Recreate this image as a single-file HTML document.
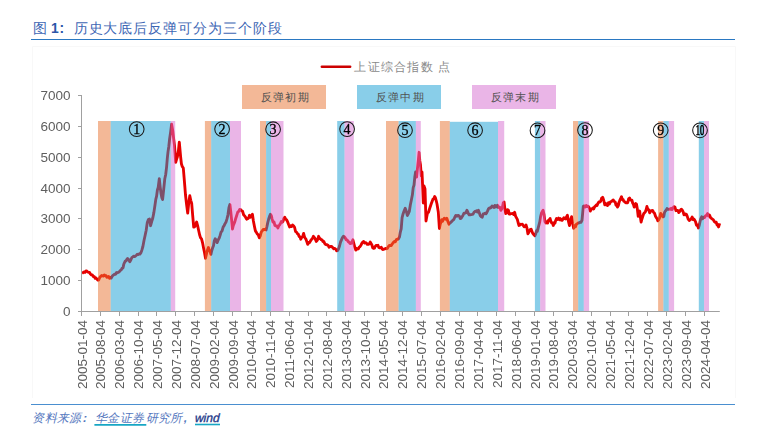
<!DOCTYPE html>
<html><head><meta charset="utf-8">
<style>
html,body{margin:0;padding:0;background:#fff;}
body{width:757px;height:434px;overflow:hidden;position:relative;font-family:"Liberation Sans",sans-serif;}
svg{position:absolute;left:0;top:0;}
</style></head><body>
<svg width="757" height="434" viewBox="0 0 757 434">
<path d="M32.5,398 V46.5 H735.5 V398" fill="none" stroke="#F8F8F8" stroke-width="1"/>
<g fill="#3D66B4" font-size="13.8">
<text x="32.5" y="33">图</text>
<text x="51" y="33" font-weight="bold" fill="#2B56A8">1</text>
<text x="59.6" y="32.6" font-weight="bold" fill="#2B56A8">:</text>
<text y="33" x="73.60 88.54 103.48 118.42 133.36 148.30 163.24 178.18 193.12 208.06 223.00 237.94 252.88 267.82">历史大底后反弹可分为三个阶段</text>
</g>
<line x1="31" y1="39.5" x2="735" y2="39.5" stroke="#2A78C2" stroke-width="1.1"/>
<line x1="321.8" y1="66.8" x2="350.2" y2="66.8" stroke="#CC0000" stroke-width="2.4" stroke-linecap="round"/>
<text x="354.2 367.5 380.8 394.1 407.4 420.7 438.1" y="71.3" font-size="11.5" fill="#8A8A8A">上证综合指数点</text>
<rect x="242" y="85" width="84" height="24" fill="#E8722F" fill-opacity="0.5"/>
<rect x="357" y="85" width="84" height="24" fill="#149DD4" fill-opacity="0.5"/>
<rect x="472" y="85" width="84" height="24" fill="#D66CD0" fill-opacity="0.5"/>
<g font-size="11" fill="#505050" letter-spacing="1.4">
<text x="285.4" y="101.3" text-anchor="middle">反弹初期</text>
<text x="400.4" y="101.3" text-anchor="middle">反弹中期</text>
<text x="515.4" y="101.3" text-anchor="middle">反弹末期</text>
</g>
<path d="M82.10,273.50 L83.08,272.72 L84.06,271.95 L85.04,272.39 L86.02,270.89 L87.00,271.20 L87.85,271.96 L88.70,272.36 L89.55,272.50 L90.40,274.00 L91.38,274.89 L92.36,274.93 L93.34,276.52 L94.32,276.75 L95.30,278.40 L96.15,278.06 L97.00,279.06 L97.85,280.19 L98.70,280.00 L99.75,277.47 L100.80,276.30 L101.67,275.45 L102.55,275.83 L103.42,276.06 L104.30,274.90 L105.15,275.56 L106.00,275.76 L106.85,277.33 L107.70,277.00 L108.58,276.46 L109.45,278.20 L110.33,277.45 L111.20,278.10 L112.05,276.48 L112.90,275.46 L113.75,274.83 L114.60,274.20 L115.58,274.23 L116.56,272.55 L117.54,272.73 L118.52,272.29 L119.50,271.50 L120.38,270.40 L121.25,269.84 L122.12,268.09 L123.00,268.00 L123.70,264.61 L124.40,262.80 L125.20,261.20 L126.00,260.97 L126.80,259.44 L127.60,258.50 L128.70,259.77 L129.80,261.70 L130.90,259.70 L132.00,257.40 L132.88,256.87 L133.76,256.15 L134.64,256.63 L135.52,256.01 L136.40,255.20 L137.28,254.27 L138.16,254.46 L139.04,253.93 L139.92,254.17 L140.80,253.00 L141.85,250.22 L142.90,246.50 L144.00,240.50 L145.10,235.50 L146.20,230.28 L147.30,222.40 L148.40,219.59 L149.50,219.10 L150.60,225.70 L151.70,221.60 L152.80,218.00 L153.90,212.36 L155.00,205.00 L155.80,199.34 L156.60,196.21 L157.40,190.03 L158.20,187.50 L159.30,178.70 L160.20,187.05 L161.10,194.00 L161.85,197.76 L162.60,199.50 L163.70,189.40 L164.80,178.70 L165.70,174.49 L166.60,166.80 L167.30,158.40 L168.00,151.90 L168.80,146.50 L169.60,139.00 L170.60,132.11 L171.60,124.20 L172.80,130.90 L173.65,138.58 L174.50,145.40 L175.70,162.40 L176.55,159.33 L177.40,156.70 L178.35,151.29 L179.30,142.20 L180.60,156.70 L181.40,163.78 L182.20,166.40 L183.30,168.00 L184.10,177.70 L184.80,186.24 L185.50,195.00 L186.60,204.59 L187.70,213.00 L188.75,202.78 L189.80,195.70 L190.75,200.35 L191.70,203.50 L192.70,215.72 L193.70,227.00 L194.67,226.75 L195.63,224.61 L196.60,222.00 L197.60,225.65 L198.60,230.22 L199.60,234.80 L200.57,237.82 L201.53,238.86 L202.50,242.60 L203.50,247.75 L204.50,252.42 L205.50,258.30 L206.47,253.97 L207.43,250.21 L208.40,247.50 L209.23,250.35 L210.07,251.36 L210.90,254.40 L211.76,250.75 L212.62,247.89 L213.48,245.81 L214.34,240.86 L215.20,238.70 L216.20,240.53 L217.20,242.60 L218.17,240.04 L219.15,238.20 L220.12,235.40 L221.10,231.90 L222.08,230.93 L223.06,227.36 L224.04,225.78 L225.02,223.65 L226.00,222.10 L226.97,218.91 L227.95,214.80 L228.93,207.70 L229.90,204.50 L230.77,211.60 L231.63,220.02 L232.50,229.00 L233.32,225.54 L234.15,223.56 L234.98,221.17 L235.80,218.20 L236.78,215.24 L237.75,212.18 L238.72,211.33 L239.70,209.40 L240.67,209.59 L241.63,210.89 L242.60,211.30 L243.60,214.76 L244.60,215.86 L245.60,217.27 L246.60,219.20 L247.57,218.75 L248.53,218.12 L249.50,215.34 L250.47,217.21 L251.43,216.02 L252.40,214.30 L253.40,220.98 L254.40,226.22 L255.40,230.90 L256.38,232.34 L257.35,234.09 L258.32,235.07 L259.30,237.80 L260.27,235.84 L261.23,232.05 L262.20,230.90 L263.18,229.48 L264.15,229.61 L265.12,229.23 L266.10,229.90 L266.96,226.33 L267.82,222.35 L268.68,219.02 L269.54,216.32 L270.40,214.30 L271.27,215.64 L272.13,219.08 L273.00,222.10 L273.98,221.88 L274.96,225.55 L275.94,225.97 L276.92,225.82 L277.90,228.00 L278.75,225.95 L279.60,224.86 L280.45,223.55 L281.30,221.48 L282.15,222.30 L283.00,221.41 L283.85,218.44 L284.70,217.20 L285.68,219.11 L286.66,219.87 L287.64,221.90 L288.62,224.58 L289.60,227.00 L290.60,225.66 L291.60,226.61 L292.60,225.00 L293.58,225.80 L294.56,227.20 L295.54,231.51 L296.52,232.12 L297.50,233.80 L298.32,234.25 L299.15,236.61 L299.98,236.68 L300.80,239.20 L301.73,237.34 L302.67,236.55 L303.60,233.40 L304.42,236.52 L305.24,238.28 L306.06,239.43 L306.88,241.89 L307.70,244.40 L308.63,242.47 L309.57,242.70 L310.50,240.90 L311.47,239.45 L312.43,238.52 L313.40,236.30 L314.37,237.61 L315.33,239.10 L316.30,241.50 L317.07,240.51 L317.83,239.23 L318.60,236.30 L319.48,238.05 L320.35,238.80 L321.23,239.70 L322.10,239.80 L322.95,241.52 L323.80,241.47 L324.65,243.29 L325.50,244.40 L326.38,244.78 L327.25,244.76 L328.12,245.47 L329.00,247.20 L329.97,246.56 L330.93,246.35 L331.90,246.70 L332.83,247.68 L333.77,248.81 L334.70,248.40 L335.67,249.06 L336.63,250.83 L337.60,250.70 L338.57,248.87 L339.53,245.98 L340.50,242.10 L341.47,239.84 L342.43,237.55 L343.40,236.30 L344.33,236.79 L345.27,237.89 L346.20,239.80 L347.17,239.86 L348.13,241.62 L349.10,242.10 L349.87,243.39 L350.63,243.62 L351.40,243.20 L352.15,241.45 L352.90,239.80 L353.87,243.58 L354.83,247.32 L355.80,250.10 L356.65,248.51 L357.50,248.99 L358.35,248.80 L359.20,247.20 L360.07,246.54 L360.95,245.21 L361.82,243.32 L362.70,242.10 L363.63,241.52 L364.57,243.10 L365.50,242.60 L366.40,243.12 L367.30,244.40 L368.27,244.32 L369.23,243.95 L370.20,242.10 L371.05,243.44 L371.90,245.03 L372.75,247.79 L373.60,248.40 L374.48,248.16 L375.35,246.24 L376.23,245.41 L377.10,245.50 L377.95,245.31 L378.80,247.53 L379.65,247.88 L380.50,247.80 L381.32,247.29 L382.14,248.97 L382.96,249.53 L383.78,249.09 L384.60,249.00 L385.53,248.49 L386.47,248.70 L387.40,248.40 L388.37,246.64 L389.33,245.41 L390.30,245.50 L391.30,245.56 L392.30,243.84 L393.30,242.56 L394.30,241.50 L395.27,241.76 L396.23,239.81 L397.20,239.20 L397.97,239.34 L398.73,238.47 L399.50,236.90 L400.35,232.09 L401.20,228.80 L402.10,217.60 L403.13,213.70 L404.17,210.71 L405.20,208.30 L406.25,211.04 L407.30,215.50 L408.30,213.73 L409.30,211.40 L410.33,205.02 L411.37,200.03 L412.40,194.80 L413.20,187.59 L414.00,185.15 L414.80,177.05 L415.60,172.00 L416.60,177.10 L417.43,168.63 L418.27,160.99 L419.10,152.30 L419.80,160.71 L420.50,165.00 L421.30,176.00 L422.00,172.00 L422.80,190.00 L423.30,203.00 L424.00,186.00 L425.00,189.00 L426.00,221.00 L426.75,216.75 L427.50,213.00 L428.50,212.40 L429.50,209.00 L430.50,206.01 L431.50,203.00 L432.25,201.12 L433.00,199.00 L433.83,198.76 L434.67,196.51 L435.50,198.00 L436.25,200.78 L437.00,204.00 L438.30,212.00 L439.40,228.50 L440.20,224.34 L441.00,222.00 L441.80,219.67 L442.60,221.25 L443.40,219.50 L444.25,218.19 L445.10,218.82 L445.95,219.30 L446.80,218.30 L447.90,221.42 L449.00,224.20 L449.97,222.72 L450.93,222.32 L451.90,221.30 L452.87,220.10 L453.83,219.45 L454.80,217.20 L455.77,215.38 L456.73,216.26 L457.70,215.50 L458.55,215.42 L459.40,216.24 L460.25,218.53 L461.10,218.40 L462.07,216.69 L463.03,215.13 L464.00,213.20 L464.97,213.10 L465.93,212.65 L466.90,210.30 L467.67,211.64 L468.43,213.74 L469.20,214.90 L470.17,214.75 L471.13,214.61 L472.10,214.40 L473.03,214.07 L473.97,212.31 L474.90,211.50 L475.77,211.31 L476.65,210.83 L477.52,212.09 L478.40,210.30 L479.37,213.09 L480.33,215.79 L481.30,216.70 L482.27,217.15 L483.23,213.99 L484.20,213.80 L485.05,213.27 L485.90,213.82 L486.75,212.76 L487.60,210.90 L488.48,208.82 L489.35,207.91 L490.23,208.15 L491.10,207.50 L492.03,206.01 L492.97,206.60 L493.90,207.50 L494.77,205.43 L495.65,206.95 L496.52,206.78 L497.40,205.20 L498.25,207.45 L499.10,206.90 L500.00,207.41 L500.90,210.30 L501.70,209.00 L502.50,206.76 L503.30,202.87 L504.10,202.10 L504.90,209.13 L505.70,213.50 L506.65,213.16 L507.60,209.70 L508.43,210.23 L509.27,214.13 L510.10,214.10 L510.97,213.57 L511.83,213.66 L512.70,213.50 L513.65,214.47 L514.60,212.20 L515.55,216.12 L516.50,217.90 L517.33,219.40 L518.17,222.76 L519.00,225.50 L519.87,225.15 L520.73,224.23 L521.60,224.30 L522.43,224.25 L523.27,225.45 L524.10,226.80 L525.05,226.49 L526.00,224.90 L526.95,228.03 L527.90,233.80 L528.73,232.44 L529.57,230.64 L530.40,229.30 L531.20,229.27 L532.00,231.40 L532.80,233.45 L533.60,234.40 L534.90,235.70 L535.70,233.83 L536.50,230.74 L537.30,231.32 L538.10,228.10 L538.93,225.11 L539.77,221.87 L540.60,216.60 L541.43,213.22 L542.27,211.62 L543.10,210.30 L544.05,214.53 L545.00,221.70 L545.87,222.97 L546.73,221.88 L547.60,223.00 L548.43,220.38 L549.27,219.76 L550.10,218.50 L550.90,221.51 L551.70,222.95 L552.50,223.04 L553.30,225.50 L554.10,222.72 L554.90,223.25 L555.70,220.47 L556.50,218.50 L557.53,219.55 L558.57,218.10 L559.60,219.80 L560.40,218.60 L561.20,220.10 L562.08,220.33 L562.95,219.17 L563.83,217.73 L564.70,218.70 L565.60,218.94 L566.50,216.86 L567.40,215.30 L568.45,221.37 L569.50,225.60 L570.55,219.84 L571.60,216.60 L572.65,223.56 L573.70,228.40 L574.60,225.77 L575.50,226.64 L576.40,224.20 L577.33,223.63 L578.27,222.86 L579.20,222.90 L580.13,222.13 L581.07,222.32 L582.00,220.10 L583.30,206.30 L584.35,205.84 L585.40,207.00 L586.33,205.47 L587.27,206.63 L588.20,206.30 L589.25,207.80 L590.30,211.10 L591.15,209.26 L592.00,208.90 L592.85,207.99 L593.70,209.00 L594.54,206.87 L595.38,206.14 L596.22,205.01 L597.06,205.53 L597.90,203.50 L598.80,202.04 L599.70,202.10 L600.60,201.40 L601.65,198.14 L602.70,197.30 L603.75,200.54 L604.80,204.90 L605.70,203.42 L606.60,204.48 L607.50,205.60 L608.43,202.70 L609.37,204.11 L610.30,202.10 L611.30,201.59 L612.30,200.70 L613.27,199.95 L614.23,201.41 L615.20,201.90 L615.97,205.20 L616.73,203.97 L617.50,207.10 L618.35,205.64 L619.20,201.90 L619.97,199.91 L620.73,198.41 L621.50,196.70 L622.27,199.50 L623.03,199.37 L623.80,201.30 L624.77,201.72 L625.73,202.79 L626.70,202.50 L627.67,202.75 L628.63,198.84 L629.60,197.90 L630.37,199.92 L631.13,200.21 L631.90,200.20 L632.67,203.00 L633.43,204.46 L634.20,207.10 L634.97,205.60 L635.73,203.58 L636.50,204.20 L637.35,209.00 L638.20,216.30 L638.95,212.30 L639.70,211.10 L640.40,217.31 L641.10,222.00 L641.95,218.95 L642.80,216.34 L643.65,213.76 L644.50,212.80 L645.30,211.85 L646.10,209.87 L646.90,206.50 L647.83,209.19 L648.77,209.97 L649.70,212.80 L650.67,211.18 L651.63,210.57 L652.60,210.50 L653.57,212.30 L654.53,213.25 L655.50,216.30 L656.27,217.66 L657.03,218.64 L657.80,220.90 L658.77,219.84 L659.73,217.41 L660.70,213.40 L661.47,214.72 L662.23,214.91 L663.00,216.90 L663.77,216.47 L664.53,212.41 L665.30,211.10 L666.16,210.20 L667.02,208.57 L667.88,209.44 L668.74,209.33 L669.60,209.00 L670.37,209.21 L671.13,208.38 L671.90,209.60 L672.95,208.17 L674.00,206.70 L674.95,207.00 L675.90,210.70 L676.87,210.51 L677.83,210.53 L678.80,212.50 L679.67,211.59 L680.55,209.82 L681.42,209.17 L682.30,210.20 L683.15,211.85 L684.00,214.80 L684.77,213.73 L685.53,214.68 L686.30,214.20 L687.27,216.39 L688.23,219.18 L689.20,220.50 L690.17,219.85 L691.13,218.91 L692.10,217.10 L692.95,219.43 L693.80,219.06 L694.65,220.02 L695.50,221.70 L696.47,225.22 L697.43,224.90 L698.40,228.00 L699.17,225.58 L699.93,222.30 L700.70,218.80 L701.67,216.81 L702.63,218.72 L703.60,217.10 L704.60,217.47 L705.60,215.76 L706.60,215.23 L707.60,213.60 L708.57,215.94 L709.53,215.12 L710.50,217.60 L711.47,218.44 L712.43,219.15 L713.40,219.90 L714.33,221.68 L715.27,222.35 L716.20,222.20 L717.00,224.72 L717.80,225.58 L718.60,226.90 L719.70,223.40" fill="none" stroke="#E60000" stroke-width="2.85" stroke-linejoin="round" stroke-linecap="butt"/>
<rect x="98" y="121" width="12.70" height="190.5" fill="#E8722F" fill-opacity="0.5"/><rect x="110.7" y="121" width="60.10" height="190.5" fill="#149DD4" fill-opacity="0.5"/><rect x="170.8" y="121" width="4.40" height="190.5" fill="#D66CD0" fill-opacity="0.5"/><rect x="204.9" y="121" width="6.30" height="190.5" fill="#E8722F" fill-opacity="0.5"/><rect x="211.2" y="121" width="18.80" height="190.5" fill="#149DD4" fill-opacity="0.5"/><rect x="230" y="121" width="11.00" height="190.5" fill="#D66CD0" fill-opacity="0.5"/><rect x="260" y="121" width="6.10" height="190.5" fill="#E8722F" fill-opacity="0.5"/><rect x="266.1" y="121" width="4.90" height="190.5" fill="#149DD4" fill-opacity="0.5"/><rect x="271" y="121" width="12.50" height="190.5" fill="#D66CD0" fill-opacity="0.5"/><rect x="337.2" y="121" width="7.40" height="190.5" fill="#149DD4" fill-opacity="0.5"/><rect x="344.6" y="121" width="9.20" height="190.5" fill="#D66CD0" fill-opacity="0.5"/><rect x="386" y="121" width="12.60" height="190.5" fill="#E8722F" fill-opacity="0.5"/><rect x="398.6" y="121" width="17.30" height="190.5" fill="#149DD4" fill-opacity="0.5"/><rect x="415.9" y="121" width="4.90" height="190.5" fill="#D66CD0" fill-opacity="0.5"/><rect x="439.9" y="121" width="9.90" height="190.5" fill="#E8722F" fill-opacity="0.5"/><rect x="449.8" y="121.8" width="48.20" height="189.7" fill="#149DD4" fill-opacity="0.5"/><rect x="498" y="121" width="6.20" height="190.5" fill="#D66CD0" fill-opacity="0.5"/><rect x="534.9" y="121" width="5.30" height="190.5" fill="#149DD4" fill-opacity="0.5"/><rect x="540.2" y="121" width="5.30" height="190.5" fill="#D66CD0" fill-opacity="0.5"/><rect x="573" y="121" width="5.20" height="190.5" fill="#E8722F" fill-opacity="0.5"/><rect x="578.2" y="121" width="5.60" height="190.5" fill="#149DD4" fill-opacity="0.5"/><rect x="583.8" y="121" width="5.30" height="190.5" fill="#D66CD0" fill-opacity="0.5"/><rect x="658.1" y="121" width="5.30" height="190.5" fill="#E8722F" fill-opacity="0.5"/><rect x="663.4" y="121" width="5.40" height="190.5" fill="#149DD4" fill-opacity="0.5"/><rect x="668.8" y="121" width="5.30" height="190.5" fill="#D66CD0" fill-opacity="0.5"/><rect x="698.8" y="121" width="5.30" height="190.5" fill="#149DD4" fill-opacity="0.5"/><rect x="704.1" y="121" width="4.90" height="190.5" fill="#D66CD0" fill-opacity="0.5"/>
<defs><filter id="gs" x="0" y="0" width="757" height="434" filterUnits="userSpaceOnUse"><feColorMatrix type="saturate" values="0"/></filter></defs><g filter="url(#gs)"><circle cx="136.7" cy="129.1" r="7.35" fill="none" stroke="#1a1a1a" stroke-width="1.05"/><text x="136.7" y="133.85" font-size="14" text-anchor="middle" style="font-family:&quot;Liberation Serif&quot;,serif" fill="#000" stroke="#000" stroke-width="0.3">1</text><circle cx="222.1" cy="129.1" r="7.35" fill="none" stroke="#1a1a1a" stroke-width="1.05"/><text x="222.1" y="133.85" font-size="14" text-anchor="middle" style="font-family:&quot;Liberation Serif&quot;,serif" fill="#000" stroke="#000" stroke-width="0.3">2</text><circle cx="273.1" cy="129.2" r="7.35" fill="none" stroke="#1a1a1a" stroke-width="1.05"/><text x="273.1" y="133.95" font-size="14" text-anchor="middle" style="font-family:&quot;Liberation Serif&quot;,serif" fill="#000" stroke="#000" stroke-width="0.3">3</text><circle cx="347.1" cy="129.1" r="7.35" fill="none" stroke="#1a1a1a" stroke-width="1.05"/><text x="347.1" y="133.85" font-size="14" text-anchor="middle" style="font-family:&quot;Liberation Serif&quot;,serif" fill="#000" stroke="#000" stroke-width="0.3">4</text><circle cx="405" cy="130.2" r="7.35" fill="none" stroke="#1a1a1a" stroke-width="1.05"/><text x="405" y="134.95" font-size="14" text-anchor="middle" style="font-family:&quot;Liberation Serif&quot;,serif" fill="#000" stroke="#000" stroke-width="0.3">5</text><circle cx="475.1" cy="130.2" r="7.35" fill="none" stroke="#1a1a1a" stroke-width="1.05"/><text x="475.1" y="134.95" font-size="14" text-anchor="middle" style="font-family:&quot;Liberation Serif&quot;,serif" fill="#000" stroke="#000" stroke-width="0.3">6</text><circle cx="537.5" cy="130.4" r="7.35" fill="none" stroke="#1a1a1a" stroke-width="1.05"/><text x="537.5" y="135.15" font-size="14" text-anchor="middle" style="font-family:&quot;Liberation Serif&quot;,serif" fill="#000" stroke="#000" stroke-width="0.3">7</text><circle cx="585" cy="130.1" r="7.35" fill="none" stroke="#1a1a1a" stroke-width="1.05"/><text x="585" y="134.85" font-size="14" text-anchor="middle" style="font-family:&quot;Liberation Serif&quot;,serif" fill="#000" stroke="#000" stroke-width="0.3">8</text><circle cx="660.7" cy="130.3" r="7.35" fill="none" stroke="#1a1a1a" stroke-width="1.05"/><text x="660.7" y="135.05" font-size="14" text-anchor="middle" style="font-family:&quot;Liberation Serif&quot;,serif" fill="#000" stroke="#000" stroke-width="0.3">9</text><circle cx="700" cy="130.3" r="7.35" fill="none" stroke="#1a1a1a" stroke-width="1.05"/><text x="700" y="134.90" font-size="14" text-anchor="middle" style="font-family:&quot;Liberation Serif&quot;,serif" fill="#000" stroke="#000" stroke-width="0.7" textLength="8.4" lengthAdjust="spacingAndGlyphs">10</text></g>
<line x1="81.5" y1="95" x2="81.5" y2="316" stroke="#A0A0A0" stroke-width="1"/>
<line x1="78" y1="311.5" x2="719.8" y2="311.5" stroke="#A0A0A0" stroke-width="1"/>
<g font-size="13.5" fill="#5E5E5E" filter="url(#gs)">
<line x1="78" y1="311.5" x2="82" y2="311.5" stroke="#A0A0A0" stroke-width="1"/><text x="70.5" y="316.0" text-anchor="end">0</text><line x1="78" y1="280.5" x2="82" y2="280.5" stroke="#A0A0A0" stroke-width="1"/><text x="70.5" y="285.0" text-anchor="end">1000</text><line x1="78" y1="249.5" x2="82" y2="249.5" stroke="#A0A0A0" stroke-width="1"/><text x="70.5" y="254.0" text-anchor="end">2000</text><line x1="78" y1="218.5" x2="82" y2="218.5" stroke="#A0A0A0" stroke-width="1"/><text x="70.5" y="223.0" text-anchor="end">3000</text><line x1="78" y1="188.5" x2="82" y2="188.5" stroke="#A0A0A0" stroke-width="1"/><text x="70.5" y="193.0" text-anchor="end">4000</text><line x1="78" y1="157.5" x2="82" y2="157.5" stroke="#A0A0A0" stroke-width="1"/><text x="70.5" y="162.0" text-anchor="end">5000</text><line x1="78" y1="126.5" x2="82" y2="126.5" stroke="#A0A0A0" stroke-width="1"/><text x="70.5" y="131.0" text-anchor="end">6000</text><line x1="78" y1="95.5" x2="82" y2="95.5" stroke="#A0A0A0" stroke-width="1"/><text x="70.5" y="100.0" text-anchor="end">7000</text>
<line x1="81.5" y1="311" x2="81.5" y2="316" stroke="#A0A0A0" stroke-width="1"/><text transform="translate(86.5,320) rotate(-90)" text-anchor="end">2005-01-04</text><line x1="100.5" y1="311" x2="100.5" y2="316" stroke="#A0A0A0" stroke-width="1"/><text transform="translate(105.3,320) rotate(-90)" text-anchor="end">2005-08-04</text><line x1="119.5" y1="311" x2="119.5" y2="316" stroke="#A0A0A0" stroke-width="1"/><text transform="translate(124.1,320) rotate(-90)" text-anchor="end">2006-03-04</text><line x1="138.5" y1="311" x2="138.5" y2="316" stroke="#A0A0A0" stroke-width="1"/><text transform="translate(143.0,320) rotate(-90)" text-anchor="end">2006-10-04</text><line x1="156.5" y1="311" x2="156.5" y2="316" stroke="#A0A0A0" stroke-width="1"/><text transform="translate(161.8,320) rotate(-90)" text-anchor="end">2007-05-04</text><line x1="175.5" y1="311" x2="175.5" y2="316" stroke="#A0A0A0" stroke-width="1"/><text transform="translate(180.8,320) rotate(-90)" text-anchor="end">2007-12-04</text><line x1="194.5" y1="311" x2="194.5" y2="316" stroke="#A0A0A0" stroke-width="1"/><text transform="translate(199.7,320) rotate(-90)" text-anchor="end">2008-07-04</text><line x1="213.5" y1="311" x2="213.5" y2="316" stroke="#A0A0A0" stroke-width="1"/><text transform="translate(218.7,320) rotate(-90)" text-anchor="end">2009-02-04</text><line x1="232.5" y1="311" x2="232.5" y2="316" stroke="#A0A0A0" stroke-width="1"/><text transform="translate(237.5,320) rotate(-90)" text-anchor="end">2009-09-04</text><line x1="251.5" y1="311" x2="251.5" y2="316" stroke="#A0A0A0" stroke-width="1"/><text transform="translate(256.3,320) rotate(-90)" text-anchor="end">2010-04-04</text><line x1="270.5" y1="311" x2="270.5" y2="316" stroke="#A0A0A0" stroke-width="1"/><text transform="translate(275.3,320) rotate(-90)" text-anchor="end">2010-11-04</text><line x1="289.5" y1="311" x2="289.5" y2="316" stroke="#A0A0A0" stroke-width="1"/><text transform="translate(294.0,320) rotate(-90)" text-anchor="end">2011-06-04</text><line x1="308.5" y1="311" x2="308.5" y2="316" stroke="#A0A0A0" stroke-width="1"/><text transform="translate(313.0,320) rotate(-90)" text-anchor="end">2012-01-04</text><line x1="326.5" y1="311" x2="326.5" y2="316" stroke="#A0A0A0" stroke-width="1"/><text transform="translate(331.9,320) rotate(-90)" text-anchor="end">2012-08-04</text><line x1="345.5" y1="311" x2="345.5" y2="316" stroke="#A0A0A0" stroke-width="1"/><text transform="translate(350.7,320) rotate(-90)" text-anchor="end">2013-03-04</text><line x1="364.5" y1="311" x2="364.5" y2="316" stroke="#A0A0A0" stroke-width="1"/><text transform="translate(369.6,320) rotate(-90)" text-anchor="end">2013-10-04</text><line x1="383.5" y1="311" x2="383.5" y2="316" stroke="#A0A0A0" stroke-width="1"/><text transform="translate(388.4,320) rotate(-90)" text-anchor="end">2014-05-04</text><line x1="402.5" y1="311" x2="402.5" y2="316" stroke="#A0A0A0" stroke-width="1"/><text transform="translate(407.4,320) rotate(-90)" text-anchor="end">2014-12-04</text><line x1="421.5" y1="311" x2="421.5" y2="316" stroke="#A0A0A0" stroke-width="1"/><text transform="translate(426.2,320) rotate(-90)" text-anchor="end">2015-07-04</text><line x1="440.5" y1="311" x2="440.5" y2="316" stroke="#A0A0A0" stroke-width="1"/><text transform="translate(445.2,320) rotate(-90)" text-anchor="end">2016-02-04</text><line x1="459.5" y1="311" x2="459.5" y2="316" stroke="#A0A0A0" stroke-width="1"/><text transform="translate(464.1,320) rotate(-90)" text-anchor="end">2016-09-04</text><line x1="477.5" y1="311" x2="477.5" y2="316" stroke="#A0A0A0" stroke-width="1"/><text transform="translate(482.9,320) rotate(-90)" text-anchor="end">2017-04-04</text><line x1="496.5" y1="311" x2="496.5" y2="316" stroke="#A0A0A0" stroke-width="1"/><text transform="translate(501.9,320) rotate(-90)" text-anchor="end">2017-11-04</text><line x1="515.5" y1="311" x2="515.5" y2="316" stroke="#A0A0A0" stroke-width="1"/><text transform="translate(520.6,320) rotate(-90)" text-anchor="end">2018-06-04</text><line x1="534.5" y1="311" x2="534.5" y2="316" stroke="#A0A0A0" stroke-width="1"/><text transform="translate(539.6,320) rotate(-90)" text-anchor="end">2019-01-04</text><line x1="553.5" y1="311" x2="553.5" y2="316" stroke="#A0A0A0" stroke-width="1"/><text transform="translate(558.4,320) rotate(-90)" text-anchor="end">2019-08-04</text><line x1="572.5" y1="311" x2="572.5" y2="316" stroke="#A0A0A0" stroke-width="1"/><text transform="translate(577.3,320) rotate(-90)" text-anchor="end">2020-03-04</text><line x1="591.5" y1="311" x2="591.5" y2="316" stroke="#A0A0A0" stroke-width="1"/><text transform="translate(596.2,320) rotate(-90)" text-anchor="end">2020-10-04</text><line x1="610.5" y1="311" x2="610.5" y2="316" stroke="#A0A0A0" stroke-width="1"/><text transform="translate(615.0,320) rotate(-90)" text-anchor="end">2021-05-04</text><line x1="628.5" y1="311" x2="628.5" y2="316" stroke="#A0A0A0" stroke-width="1"/><text transform="translate(634.0,320) rotate(-90)" text-anchor="end">2021-12-04</text><line x1="647.5" y1="311" x2="647.5" y2="316" stroke="#A0A0A0" stroke-width="1"/><text transform="translate(652.8,320) rotate(-90)" text-anchor="end">2022-07-04</text><line x1="666.5" y1="311" x2="666.5" y2="316" stroke="#A0A0A0" stroke-width="1"/><text transform="translate(671.8,320) rotate(-90)" text-anchor="end">2023-02-04</text><line x1="685.5" y1="311" x2="685.5" y2="316" stroke="#A0A0A0" stroke-width="1"/><text transform="translate(690.6,320) rotate(-90)" text-anchor="end">2023-09-04</text><line x1="704.5" y1="311" x2="704.5" y2="316" stroke="#A0A0A0" stroke-width="1"/><text transform="translate(709.5,320) rotate(-90)" text-anchor="end">2024-04-04</text>
</g>
<line x1="31" y1="404.5" x2="735" y2="404.5" stroke="#4A8FD0" stroke-width="1.15"/>
<g transform="translate(0,422) skewX(-13) translate(0,-422)" font-size="12" fill="#5577BE">
<text y="422" x="32.50 44.60 56.70 68.80">资料来源</text>
<text y="422" x="82.3" font-weight="bold">:</text>
<text y="422" x="95.00 107.30 119.60 131.90">华金证券</text>
<text y="422" x="145.80 157.80 169.80">研究所</text>
<text y="422" x="183.3" font-weight="bold">,</text>
<text y="422" x="194.2" font-size="12" fill="#1F3A8A" stroke="#1F3A8A" stroke-width="0.35">wind</text>
</g>
<line x1="94.4" y1="424.9" x2="146.3" y2="424.9" stroke="#17A6C4" stroke-width="1.6"/>
<line x1="195" y1="424.5" x2="220" y2="424.5" stroke="#17A6C4" stroke-width="1.6"/>
</svg>
</body></html>
